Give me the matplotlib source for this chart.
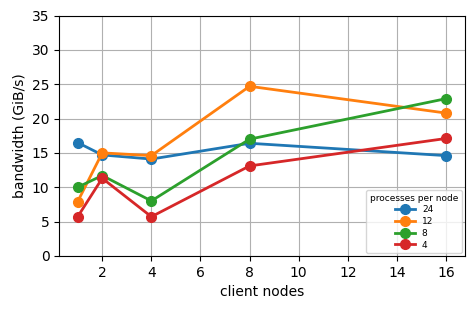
import matplotlib
matplotlib.use("Agg")
import matplotlib.pyplot as plt

nodes = [1, 2, 4, 8, 16]
bw_24 = [16.5, 14.7, 14.1, 16.4, 14.6]
bw_12 = [7.9, 15.0, 14.6, 24.7, 20.8]
bw_8 = [10.0, 11.7, 8.0, 17.0, 22.9]
bw_4 = [5.7, 11.3, 5.7, 13.1, 17.1]
labels = ["24", "12", "8", "4"]

fig, ax = plt.subplots(figsize=(4.74, 3.12), dpi=100)
for ys, lab in zip([bw_24, bw_12, bw_8, bw_4], labels):
    ax.plot(nodes, ys, marker="o", linewidth=2, markersize=7, label=lab)
ax.set_ylim(0, 35)
ax.set_xticks([2, 4, 6, 8, 10, 12, 14, 16])
ax.grid(True)
ax.set_xlabel("client nodes")
ax.set_ylabel("bandwidth (GiB/s)")
ax.legend(title="processes per node", fontsize=6.5, title_fontsize=6.5,
          loc="lower right", borderaxespad=0.3, handlelength=2.2, labelspacing=0.3)
fig.subplots_adjust(left=0.125, right=0.98, top=0.95, bottom=0.18)
fig.savefig("out.png")
